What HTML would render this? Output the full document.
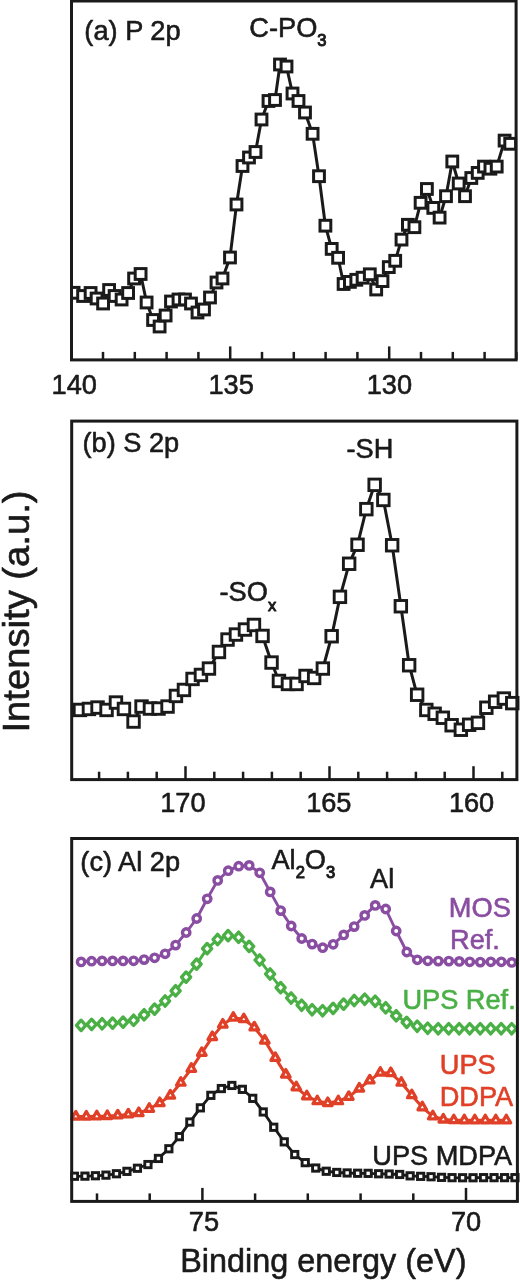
<!DOCTYPE html>
<html lang="en"><head><meta charset="utf-8"><title>XPS spectra</title>
<style>
html,body{margin:0;padding:0;background:#fff}
body{width:520px;height:1281px;overflow:hidden}
svg{display:block}
svg text{font-family:"Liberation Sans", Arial, Helvetica, sans-serif;stroke-width:0.6px;stroke-linejoin:round}
</style></head>
<body>
<svg width="520" height="1281" viewBox="0 0 520 1281">
<rect width="520" height="1281" fill="#fff"/>
<g stroke="#1a1a1a" stroke-width="2.5"><line x1="516.4" y1="359.9" x2="516.4" y2="351.9"/><line x1="484.6" y1="359.9" x2="484.6" y2="351.9"/><line x1="452.8" y1="359.9" x2="452.8" y2="351.9"/><line x1="421.0" y1="359.9" x2="421.0" y2="351.9"/><line x1="357.4" y1="359.9" x2="357.4" y2="351.9"/><line x1="325.6" y1="359.9" x2="325.6" y2="351.9"/><line x1="293.8" y1="359.9" x2="293.8" y2="351.9"/><line x1="262.0" y1="359.9" x2="262.0" y2="351.9"/><line x1="198.4" y1="359.9" x2="198.4" y2="351.9"/><line x1="166.6" y1="359.9" x2="166.6" y2="351.9"/><line x1="134.8" y1="359.9" x2="134.8" y2="351.9"/><line x1="103.0" y1="359.9" x2="103.0" y2="351.9"/><line x1="230.2" y1="359.9" x2="230.2" y2="346.4"/><line x1="389.2" y1="359.9" x2="389.2" y2="346.4"/><line x1="502.3" y1="779.7" x2="502.3" y2="771.7"/><line x1="444.7" y1="779.7" x2="444.7" y2="771.7"/><line x1="415.9" y1="779.7" x2="415.9" y2="771.7"/><line x1="387.1" y1="779.7" x2="387.1" y2="771.7"/><line x1="358.3" y1="779.7" x2="358.3" y2="771.7"/><line x1="300.7" y1="779.7" x2="300.7" y2="771.7"/><line x1="271.9" y1="779.7" x2="271.9" y2="771.7"/><line x1="243.1" y1="779.7" x2="243.1" y2="771.7"/><line x1="214.3" y1="779.7" x2="214.3" y2="771.7"/><line x1="156.7" y1="779.7" x2="156.7" y2="771.7"/><line x1="127.9" y1="779.7" x2="127.9" y2="771.7"/><line x1="99.1" y1="779.7" x2="99.1" y2="771.7"/><line x1="185.5" y1="779.7" x2="185.5" y2="766.2"/><line x1="329.5" y1="779.7" x2="329.5" y2="766.2"/><line x1="473.5" y1="779.7" x2="473.5" y2="766.2"/><line x1="413.3" y1="1201.4" x2="413.3" y2="1193.4"/><line x1="360.6" y1="1201.4" x2="360.6" y2="1193.4"/><line x1="307.8" y1="1201.4" x2="307.8" y2="1193.4"/><line x1="255.1" y1="1201.4" x2="255.1" y2="1193.4"/><line x1="149.7" y1="1201.4" x2="149.7" y2="1193.4"/><line x1="97.0" y1="1201.4" x2="97.0" y2="1193.4"/><line x1="202.4" y1="1201.4" x2="202.4" y2="1187.9"/><line x1="466.0" y1="1201.4" x2="466.0" y2="1187.9"/></g>
<clipPath id="cl"><rect x="70.2" y="0" width="450" height="1281"/></clipPath><g clip-path="url(#cl)">
<polyline fill="none" stroke="#1a1a1a" stroke-width="3.0" stroke-linejoin="round" points="73.6,292.8 83.1,296.0 90.6,293.0 96.6,298.5 103.1,303.5 109.1,290.0 114.6,296.0 121.6,299.5 128.1,293.0 134.1,278.5 140.6,274.0 146.6,302.5 153.1,320.0 159.6,326.5 165.6,315.5 171.0,301.5 178.5,299.5 185.0,299.5 191.0,303.5 197.5,312.5 204.0,309.5 210.0,297.5 216.5,282.5 222.5,278.5 230.0,257.5 236.5,204.5 242.5,166.0 249.0,157.5 255.5,152.0 261.5,119.5 268.5,101.0 275.0,100.0 280.0,64.5 286.5,66.5 292.5,93.5 298.5,101.0 305.0,112.5 312.6,133.8 319.0,176.2 325.4,225.7 331.7,248.9 338.1,257.8 343.6,284.0 349.9,281.9 356.3,279.8 362.6,277.7 369.8,274.3 376.2,289.5 382.5,281.1 388.8,267.1 395.2,260.8 401.5,239.6 407.9,224.8 414.4,227.2 420.6,202.8 426.9,189.0 433.3,207.9 439.6,217.6 446.0,196.2 452.3,161.5 458.7,183.5 465.0,196.2 471.3,178.0 477.7,172.9 484.0,166.6 490.4,168.7 496.7,166.6 504.6,140.6 510.2,143.8"/>
<g fill="#fff" stroke="#1a1a1a" stroke-width="3.0"><rect x="68.2" y="287.4" width="10.8" height="10.8"/><rect x="77.7" y="290.6" width="10.8" height="10.8"/><rect x="85.2" y="287.6" width="10.8" height="10.8"/><rect x="91.2" y="293.1" width="10.8" height="10.8"/><rect x="97.7" y="298.1" width="10.8" height="10.8"/><rect x="103.7" y="284.6" width="10.8" height="10.8"/><rect x="109.2" y="290.6" width="10.8" height="10.8"/><rect x="116.2" y="294.1" width="10.8" height="10.8"/><rect x="122.7" y="287.6" width="10.8" height="10.8"/><rect x="128.7" y="273.1" width="10.8" height="10.8"/><rect x="135.2" y="268.6" width="10.8" height="10.8"/><rect x="141.2" y="297.1" width="10.8" height="10.8"/><rect x="147.7" y="314.6" width="10.8" height="10.8"/><rect x="154.2" y="321.1" width="10.8" height="10.8"/><rect x="160.2" y="310.1" width="10.8" height="10.8"/><rect x="165.6" y="296.1" width="10.8" height="10.8"/><rect x="173.1" y="294.1" width="10.8" height="10.8"/><rect x="179.6" y="294.1" width="10.8" height="10.8"/><rect x="185.6" y="298.1" width="10.8" height="10.8"/><rect x="192.1" y="307.1" width="10.8" height="10.8"/><rect x="198.6" y="304.1" width="10.8" height="10.8"/><rect x="204.6" y="292.1" width="10.8" height="10.8"/><rect x="211.1" y="277.1" width="10.8" height="10.8"/><rect x="217.1" y="273.1" width="10.8" height="10.8"/><rect x="224.6" y="252.1" width="10.8" height="10.8"/><rect x="231.1" y="199.1" width="10.8" height="10.8"/><rect x="237.1" y="160.6" width="10.8" height="10.8"/><rect x="243.6" y="152.1" width="10.8" height="10.8"/><rect x="250.1" y="146.6" width="10.8" height="10.8"/><rect x="256.1" y="114.1" width="10.8" height="10.8"/><rect x="263.1" y="95.6" width="10.8" height="10.8"/><rect x="269.6" y="94.6" width="10.8" height="10.8"/><rect x="274.6" y="59.1" width="10.8" height="10.8"/><rect x="281.1" y="61.1" width="10.8" height="10.8"/><rect x="287.1" y="88.1" width="10.8" height="10.8"/><rect x="293.1" y="95.6" width="10.8" height="10.8"/><rect x="299.6" y="107.1" width="10.8" height="10.8"/><rect x="307.2" y="128.4" width="10.8" height="10.8"/><rect x="313.6" y="170.8" width="10.8" height="10.8"/><rect x="320.0" y="220.3" width="10.8" height="10.8"/><rect x="326.3" y="243.5" width="10.8" height="10.8"/><rect x="332.7" y="252.4" width="10.8" height="10.8"/><rect x="338.2" y="278.6" width="10.8" height="10.8"/><rect x="344.5" y="276.5" width="10.8" height="10.8"/><rect x="350.9" y="274.4" width="10.8" height="10.8"/><rect x="357.2" y="272.3" width="10.8" height="10.8"/><rect x="364.4" y="268.9" width="10.8" height="10.8"/><rect x="370.8" y="284.1" width="10.8" height="10.8"/><rect x="377.1" y="275.7" width="10.8" height="10.8"/><rect x="383.4" y="261.7" width="10.8" height="10.8"/><rect x="389.8" y="255.4" width="10.8" height="10.8"/><rect x="396.1" y="234.2" width="10.8" height="10.8"/><rect x="402.5" y="219.4" width="10.8" height="10.8"/><rect x="409.0" y="221.8" width="10.8" height="10.8"/><rect x="415.2" y="197.4" width="10.8" height="10.8"/><rect x="421.5" y="183.6" width="10.8" height="10.8"/><rect x="427.9" y="202.5" width="10.8" height="10.8"/><rect x="434.2" y="212.2" width="10.8" height="10.8"/><rect x="440.6" y="190.8" width="10.8" height="10.8"/><rect x="446.9" y="156.1" width="10.8" height="10.8"/><rect x="453.3" y="178.1" width="10.8" height="10.8"/><rect x="459.6" y="190.8" width="10.8" height="10.8"/><rect x="465.9" y="172.6" width="10.8" height="10.8"/><rect x="472.3" y="167.5" width="10.8" height="10.8"/><rect x="478.6" y="161.2" width="10.8" height="10.8"/><rect x="485.0" y="163.3" width="10.8" height="10.8"/><rect x="491.3" y="161.2" width="10.8" height="10.8"/><rect x="499.2" y="135.2" width="10.8" height="10.8"/><rect x="504.8" y="138.4" width="10.8" height="10.8"/></g>
<polyline fill="none" stroke="#1a1a1a" stroke-width="3.0" stroke-linejoin="round" points="80.0,710.0 89.0,709.0 97.5,707.5 106.5,710.0 116.0,702.5 124.0,709.0 133.5,721.5 141.5,706.5 150.0,708.5 158.5,708.5 167.5,706.5 176.0,696.0 184.0,690.0 192.5,679.0 201.0,675.0 209.0,668.5 219.0,652.0 227.5,639.5 236.0,634.5 245.0,629.5 254.0,625.0 262.5,636.0 271.5,662.5 279.0,681.0 288.0,684.0 296.5,684.0 305.5,676.0 314.2,678.0 322.9,668.5 331.7,636.2 340.0,596.9 349.2,563.7 357.5,544.8 366.3,509.2 374.6,484.8 383.4,500.0 392.2,545.2 400.9,606.2 409.2,665.2 417.1,694.8 426.3,710.0 434.6,713.7 442.9,717.8 451.7,725.2 460.9,729.8 469.2,724.8 478.0,722.9 486.3,707.7 495.1,701.7 503.8,698.5 512.2,703.1"/>
<g fill="#fff" stroke="#1a1a1a" stroke-width="2.9"><rect x="74.2" y="704.2" width="11.5" height="11.5"/><rect x="83.2" y="703.2" width="11.5" height="11.5"/><rect x="91.8" y="701.8" width="11.5" height="11.5"/><rect x="100.8" y="704.2" width="11.5" height="11.5"/><rect x="110.2" y="696.8" width="11.5" height="11.5"/><rect x="118.2" y="703.2" width="11.5" height="11.5"/><rect x="127.8" y="715.8" width="11.5" height="11.5"/><rect x="135.8" y="700.8" width="11.5" height="11.5"/><rect x="144.2" y="702.8" width="11.5" height="11.5"/><rect x="152.8" y="702.8" width="11.5" height="11.5"/><rect x="161.8" y="700.8" width="11.5" height="11.5"/><rect x="170.2" y="690.2" width="11.5" height="11.5"/><rect x="178.2" y="684.2" width="11.5" height="11.5"/><rect x="186.8" y="673.2" width="11.5" height="11.5"/><rect x="195.2" y="669.2" width="11.5" height="11.5"/><rect x="203.2" y="662.8" width="11.5" height="11.5"/><rect x="213.2" y="646.2" width="11.5" height="11.5"/><rect x="221.8" y="633.8" width="11.5" height="11.5"/><rect x="230.2" y="628.8" width="11.5" height="11.5"/><rect x="239.2" y="623.8" width="11.5" height="11.5"/><rect x="248.2" y="619.2" width="11.5" height="11.5"/><rect x="256.8" y="630.2" width="11.5" height="11.5"/><rect x="265.8" y="656.8" width="11.5" height="11.5"/><rect x="273.2" y="675.2" width="11.5" height="11.5"/><rect x="282.2" y="678.2" width="11.5" height="11.5"/><rect x="290.8" y="678.2" width="11.5" height="11.5"/><rect x="299.8" y="670.2" width="11.5" height="11.5"/><rect x="308.4" y="672.2" width="11.5" height="11.5"/><rect x="317.1" y="662.8" width="11.5" height="11.5"/><rect x="325.9" y="630.5" width="11.5" height="11.5"/><rect x="334.2" y="591.1" width="11.5" height="11.5"/><rect x="343.4" y="558.0" width="11.5" height="11.5"/><rect x="351.8" y="539.0" width="11.5" height="11.5"/><rect x="360.6" y="503.4" width="11.5" height="11.5"/><rect x="368.9" y="479.1" width="11.5" height="11.5"/><rect x="377.6" y="494.2" width="11.5" height="11.5"/><rect x="386.4" y="539.5" width="11.5" height="11.5"/><rect x="395.1" y="600.5" width="11.5" height="11.5"/><rect x="403.4" y="659.5" width="11.5" height="11.5"/><rect x="411.4" y="689.0" width="11.5" height="11.5"/><rect x="420.6" y="704.2" width="11.5" height="11.5"/><rect x="428.9" y="708.0" width="11.5" height="11.5"/><rect x="437.1" y="712.0" width="11.5" height="11.5"/><rect x="445.9" y="719.5" width="11.5" height="11.5"/><rect x="455.1" y="724.0" width="11.5" height="11.5"/><rect x="463.4" y="719.0" width="11.5" height="11.5"/><rect x="472.2" y="717.1" width="11.5" height="11.5"/><rect x="480.6" y="702.0" width="11.5" height="11.5"/><rect x="489.4" y="696.0" width="11.5" height="11.5"/><rect x="498.1" y="692.8" width="11.5" height="11.5"/><rect x="506.5" y="697.4" width="11.5" height="11.5"/></g>
<polyline fill="none" stroke="#894da1" stroke-width="2.9" stroke-linejoin="round" points="81.1,961.9 91.6,961.2 102.1,960.9 112.6,960.9 123.1,960.9 133.6,960.8 144.1,959.6 154.6,957.8 165.1,953.8 175.6,945.1 186.2,932.5 196.7,918.5 207.2,898.8 217.7,880.4 228.2,870.7 238.7,866.2 249.2,865.4 259.7,872.8 270.2,891.9 280.7,910.6 291.2,926.0 301.7,938.5 312.2,944.1 322.7,947.7 333.2,944.3 343.7,934.9 354.2,926.6 364.7,915.4 375.2,905.4 385.7,909.0 396.2,931.0 406.8,952.0 417.3,959.8 427.8,960.8 438.3,961.1 448.8,961.1 459.3,961.4 469.8,961.8 480.3,962.1 490.8,961.8 501.3,961.8 511.8,962.4"/>
<g fill="#fff" stroke="#894da1" stroke-width="3.4"><circle cx="81.1" cy="961.9" r="3.7"/><circle cx="91.6" cy="961.2" r="3.7"/><circle cx="102.1" cy="960.9" r="3.7"/><circle cx="112.6" cy="960.9" r="3.7"/><circle cx="123.1" cy="960.9" r="3.7"/><circle cx="133.6" cy="960.8" r="3.7"/><circle cx="144.1" cy="959.6" r="3.7"/><circle cx="154.6" cy="957.8" r="3.7"/><circle cx="165.1" cy="953.8" r="3.7"/><circle cx="175.6" cy="945.1" r="3.7"/><circle cx="186.2" cy="932.5" r="3.7"/><circle cx="196.7" cy="918.5" r="3.7"/><circle cx="207.2" cy="898.8" r="3.7"/><circle cx="217.7" cy="880.4" r="3.7"/><circle cx="228.2" cy="870.7" r="3.7"/><circle cx="238.7" cy="866.2" r="3.7"/><circle cx="249.2" cy="865.4" r="3.7"/><circle cx="259.7" cy="872.8" r="3.7"/><circle cx="270.2" cy="891.9" r="3.7"/><circle cx="280.7" cy="910.6" r="3.7"/><circle cx="291.2" cy="926.0" r="3.7"/><circle cx="301.7" cy="938.5" r="3.7"/><circle cx="312.2" cy="944.1" r="3.7"/><circle cx="322.7" cy="947.7" r="3.7"/><circle cx="333.2" cy="944.3" r="3.7"/><circle cx="343.7" cy="934.9" r="3.7"/><circle cx="354.2" cy="926.6" r="3.7"/><circle cx="364.7" cy="915.4" r="3.7"/><circle cx="375.2" cy="905.4" r="3.7"/><circle cx="385.7" cy="909.0" r="3.7"/><circle cx="396.2" cy="931.0" r="3.7"/><circle cx="406.8" cy="952.0" r="3.7"/><circle cx="417.3" cy="959.8" r="3.7"/><circle cx="427.8" cy="960.8" r="3.7"/><circle cx="438.3" cy="961.1" r="3.7"/><circle cx="448.8" cy="961.1" r="3.7"/><circle cx="459.3" cy="961.4" r="3.7"/><circle cx="469.8" cy="961.8" r="3.7"/><circle cx="480.3" cy="962.1" r="3.7"/><circle cx="490.8" cy="961.8" r="3.7"/><circle cx="501.3" cy="961.8" r="3.7"/><circle cx="511.8" cy="962.4" r="3.7"/></g>
<polyline fill="none" stroke="#4ab046" stroke-width="2.9" stroke-linejoin="round" points="81.1,1025.4 91.6,1024.4 102.1,1023.8 112.6,1023.1 123.1,1022.1 133.6,1020.3 144.1,1014.8 154.6,1009.1 165.1,1001.0 175.6,990.8 186.1,977.1 196.6,964.1 207.1,948.6 217.6,939.5 228.1,935.6 238.6,937.3 249.1,946.4 259.6,960.0 270.1,974.0 280.6,987.6 291.1,998.0 301.6,1005.2 312.1,1009.7 322.6,1010.7 333.1,1008.4 343.6,1004.1 354.2,1000.5 364.7,999.2 375.2,1001.2 385.7,1007.8 396.2,1015.8 406.7,1022.4 417.2,1026.2 427.7,1028.2 438.2,1028.7 448.7,1028.7 459.2,1028.7 469.7,1028.7 480.2,1028.7 490.7,1028.7 501.2,1028.7 511.7,1028.7"/>
<g fill="#fff" stroke="#4ab046" stroke-width="3.3" stroke-linejoin="round"><path d="M81.1 1020.2l4.6 5.2l-4.6 5.2l-4.6 -5.2z"/><path d="M91.6 1019.2l4.6 5.2l-4.6 5.2l-4.6 -5.2z"/><path d="M102.1 1018.6l4.6 5.2l-4.6 5.2l-4.6 -5.2z"/><path d="M112.6 1017.9l4.6 5.2l-4.6 5.2l-4.6 -5.2z"/><path d="M123.1 1016.9l4.6 5.2l-4.6 5.2l-4.6 -5.2z"/><path d="M133.6 1015.1l4.6 5.2l-4.6 5.2l-4.6 -5.2z"/><path d="M144.1 1009.6l4.6 5.2l-4.6 5.2l-4.6 -5.2z"/><path d="M154.6 1003.9l4.6 5.2l-4.6 5.2l-4.6 -5.2z"/><path d="M165.1 995.8l4.6 5.2l-4.6 5.2l-4.6 -5.2z"/><path d="M175.6 985.6l4.6 5.2l-4.6 5.2l-4.6 -5.2z"/><path d="M186.1 971.9l4.6 5.2l-4.6 5.2l-4.6 -5.2z"/><path d="M196.6 958.9l4.6 5.2l-4.6 5.2l-4.6 -5.2z"/><path d="M207.1 943.4l4.6 5.2l-4.6 5.2l-4.6 -5.2z"/><path d="M217.6 934.3l4.6 5.2l-4.6 5.2l-4.6 -5.2z"/><path d="M228.1 930.4l4.6 5.2l-4.6 5.2l-4.6 -5.2z"/><path d="M238.6 932.1l4.6 5.2l-4.6 5.2l-4.6 -5.2z"/><path d="M249.1 941.2l4.6 5.2l-4.6 5.2l-4.6 -5.2z"/><path d="M259.6 954.8l4.6 5.2l-4.6 5.2l-4.6 -5.2z"/><path d="M270.1 968.8l4.6 5.2l-4.6 5.2l-4.6 -5.2z"/><path d="M280.6 982.4l4.6 5.2l-4.6 5.2l-4.6 -5.2z"/><path d="M291.1 992.8l4.6 5.2l-4.6 5.2l-4.6 -5.2z"/><path d="M301.6 1000.0l4.6 5.2l-4.6 5.2l-4.6 -5.2z"/><path d="M312.1 1004.5l4.6 5.2l-4.6 5.2l-4.6 -5.2z"/><path d="M322.6 1005.5l4.6 5.2l-4.6 5.2l-4.6 -5.2z"/><path d="M333.1 1003.2l4.6 5.2l-4.6 5.2l-4.6 -5.2z"/><path d="M343.6 998.9l4.6 5.2l-4.6 5.2l-4.6 -5.2z"/><path d="M354.2 995.3l4.6 5.2l-4.6 5.2l-4.6 -5.2z"/><path d="M364.7 994.0l4.6 5.2l-4.6 5.2l-4.6 -5.2z"/><path d="M375.2 996.0l4.6 5.2l-4.6 5.2l-4.6 -5.2z"/><path d="M385.7 1002.6l4.6 5.2l-4.6 5.2l-4.6 -5.2z"/><path d="M396.2 1010.6l4.6 5.2l-4.6 5.2l-4.6 -5.2z"/><path d="M406.7 1017.2l4.6 5.2l-4.6 5.2l-4.6 -5.2z"/><path d="M417.2 1021.0l4.6 5.2l-4.6 5.2l-4.6 -5.2z"/><path d="M427.7 1023.0l4.6 5.2l-4.6 5.2l-4.6 -5.2z"/><path d="M438.2 1023.5l4.6 5.2l-4.6 5.2l-4.6 -5.2z"/><path d="M448.7 1023.5l4.6 5.2l-4.6 5.2l-4.6 -5.2z"/><path d="M459.2 1023.5l4.6 5.2l-4.6 5.2l-4.6 -5.2z"/><path d="M469.7 1023.5l4.6 5.2l-4.6 5.2l-4.6 -5.2z"/><path d="M480.2 1023.5l4.6 5.2l-4.6 5.2l-4.6 -5.2z"/><path d="M490.7 1023.5l4.6 5.2l-4.6 5.2l-4.6 -5.2z"/><path d="M501.2 1023.5l4.6 5.2l-4.6 5.2l-4.6 -5.2z"/><path d="M511.7 1023.5l4.6 5.2l-4.6 5.2l-4.6 -5.2z"/></g>
<polyline fill="none" stroke="#e04027" stroke-width="3.0" stroke-linejoin="round" points="75.8,1116.5 86.3,1116.5 96.8,1116.3 107.3,1116.0 117.8,1115.4 128.3,1114.4 138.8,1113.1 149.3,1108.8 159.8,1103.1 170.3,1095.5 180.8,1082.7 191.3,1068.8 201.8,1052.9 212.3,1037.1 222.8,1024.6 233.3,1017.7 243.8,1019.2 254.3,1027.4 264.8,1040.6 275.3,1057.9 285.8,1074.6 296.3,1087.3 306.8,1096.3 317.3,1101.2 327.8,1103.1 338.3,1101.2 348.8,1096.9 359.3,1088.5 369.8,1080.4 380.3,1072.7 390.8,1073.1 401.3,1082.7 411.8,1095.2 422.3,1107.3 432.8,1116.3 443.3,1119.5 453.8,1120.2 464.3,1120.3 474.8,1120.3 485.3,1120.3 495.8,1120.3 506.3,1120.3"/>
<g fill="#fff" stroke="#e04027" stroke-width="3.3" stroke-linejoin="round"><path d="M75.8 1111.5L80.1 1119.0L71.5 1119.0z"/><path d="M86.3 1111.5L90.6 1119.0L82.0 1119.0z"/><path d="M96.8 1111.3L101.1 1118.8L92.5 1118.8z"/><path d="M107.3 1111.0L111.6 1118.5L103.0 1118.5z"/><path d="M117.8 1110.4L122.1 1117.9L113.5 1117.9z"/><path d="M128.3 1109.4L132.6 1116.9L124.0 1116.9z"/><path d="M138.8 1108.1L143.1 1115.6L134.5 1115.6z"/><path d="M149.3 1103.8L153.6 1111.3L145.0 1111.3z"/><path d="M159.8 1098.1L164.1 1105.6L155.5 1105.6z"/><path d="M170.3 1090.5L174.6 1098.0L166.0 1098.0z"/><path d="M180.8 1077.7L185.1 1085.2L176.5 1085.2z"/><path d="M191.3 1063.8L195.6 1071.3L187.0 1071.3z"/><path d="M201.8 1047.9L206.1 1055.4L197.5 1055.4z"/><path d="M212.3 1032.1L216.6 1039.6L208.0 1039.6z"/><path d="M222.8 1019.6L227.1 1027.1L218.5 1027.1z"/><path d="M233.3 1012.7L237.6 1020.2L229.0 1020.2z"/><path d="M243.8 1014.2L248.1 1021.7L239.5 1021.7z"/><path d="M254.3 1022.4L258.6 1029.9L250.0 1029.9z"/><path d="M264.8 1035.6L269.1 1043.1L260.5 1043.1z"/><path d="M275.3 1052.9L279.6 1060.4L271.0 1060.4z"/><path d="M285.8 1069.6L290.1 1077.1L281.5 1077.1z"/><path d="M296.3 1082.3L300.6 1089.8L292.0 1089.8z"/><path d="M306.8 1091.3L311.1 1098.8L302.5 1098.8z"/><path d="M317.3 1096.2L321.6 1103.7L313.0 1103.7z"/><path d="M327.8 1098.1L332.1 1105.6L323.5 1105.6z"/><path d="M338.3 1096.2L342.6 1103.7L334.0 1103.7z"/><path d="M348.8 1091.9L353.1 1099.4L344.5 1099.4z"/><path d="M359.3 1083.5L363.6 1091.0L355.0 1091.0z"/><path d="M369.8 1075.4L374.1 1082.9L365.5 1082.9z"/><path d="M380.3 1067.7L384.6 1075.2L376.0 1075.2z"/><path d="M390.8 1068.1L395.1 1075.6L386.5 1075.6z"/><path d="M401.3 1077.7L405.6 1085.2L397.0 1085.2z"/><path d="M411.8 1090.2L416.1 1097.7L407.5 1097.7z"/><path d="M422.3 1102.3L426.6 1109.8L418.0 1109.8z"/><path d="M432.8 1111.3L437.1 1118.8L428.5 1118.8z"/><path d="M443.3 1114.5L447.6 1122.0L439.0 1122.0z"/><path d="M453.8 1115.2L458.1 1122.7L449.5 1122.7z"/><path d="M464.3 1115.3L468.6 1122.8L460.0 1122.8z"/><path d="M474.8 1115.3L479.1 1122.8L470.5 1122.8z"/><path d="M485.3 1115.3L489.6 1122.8L481.0 1122.8z"/><path d="M495.8 1115.3L500.1 1122.8L491.5 1122.8z"/><path d="M506.3 1115.3L510.6 1122.8L502.0 1122.8z"/></g>
<polyline fill="none" stroke="#1a1a1a" stroke-width="2.8" stroke-linejoin="round" points="74.5,1176.3 85.0,1176.2 95.5,1175.8 106.0,1175.2 116.5,1173.8 126.9,1171.4 137.4,1168.3 147.9,1164.5 158.4,1158.4 168.9,1148.8 179.4,1136.6 189.9,1122.1 200.4,1107.8 210.8,1095.4 221.3,1088.5 231.8,1085.4 242.3,1089.3 252.8,1098.3 263.3,1111.9 273.8,1127.3 284.3,1141.9 294.7,1154.6 305.2,1162.6 315.7,1168.1 326.2,1171.2 336.7,1172.5 347.2,1173.0 357.7,1173.3 368.2,1173.4 378.7,1173.8 389.1,1174.0 399.6,1174.5 410.1,1175.8 420.6,1176.3 431.1,1176.7 441.6,1177.3 452.1,1177.7 462.6,1177.8 473.0,1177.7 483.5,1177.7 494.0,1177.7 504.5,1177.7 515.0,1177.7"/>
<g fill="#fff" stroke="#1a1a1a" stroke-width="2.9"><rect x="71.3" y="1173.1" width="6.3" height="6.3"/><rect x="81.8" y="1173.0" width="6.3" height="6.3"/><rect x="92.3" y="1172.6" width="6.3" height="6.3"/><rect x="102.8" y="1172.0" width="6.3" height="6.3"/><rect x="113.3" y="1170.6" width="6.3" height="6.3"/><rect x="123.8" y="1168.2" width="6.3" height="6.3"/><rect x="134.3" y="1165.1" width="6.3" height="6.3"/><rect x="144.8" y="1161.4" width="6.3" height="6.3"/><rect x="155.3" y="1155.3" width="6.3" height="6.3"/><rect x="165.7" y="1145.6" width="6.3" height="6.3"/><rect x="176.2" y="1133.5" width="6.3" height="6.3"/><rect x="186.7" y="1118.9" width="6.3" height="6.3"/><rect x="197.2" y="1104.7" width="6.3" height="6.3"/><rect x="207.7" y="1092.2" width="6.3" height="6.3"/><rect x="218.2" y="1085.4" width="6.3" height="6.3"/><rect x="228.7" y="1082.3" width="6.3" height="6.3"/><rect x="239.2" y="1086.2" width="6.3" height="6.3"/><rect x="249.6" y="1095.2" width="6.3" height="6.3"/><rect x="260.1" y="1108.8" width="6.3" height="6.3"/><rect x="270.6" y="1124.1" width="6.3" height="6.3"/><rect x="281.1" y="1138.7" width="6.3" height="6.3"/><rect x="291.6" y="1151.4" width="6.3" height="6.3"/><rect x="302.1" y="1159.5" width="6.3" height="6.3"/><rect x="312.6" y="1164.9" width="6.3" height="6.3"/><rect x="323.1" y="1168.1" width="6.3" height="6.3"/><rect x="333.6" y="1169.3" width="6.3" height="6.3"/><rect x="344.0" y="1169.8" width="6.3" height="6.3"/><rect x="354.5" y="1170.1" width="6.3" height="6.3"/><rect x="365.0" y="1170.2" width="6.3" height="6.3"/><rect x="375.5" y="1170.6" width="6.3" height="6.3"/><rect x="386.0" y="1170.9" width="6.3" height="6.3"/><rect x="396.5" y="1171.3" width="6.3" height="6.3"/><rect x="407.0" y="1172.7" width="6.3" height="6.3"/><rect x="417.5" y="1173.2" width="6.3" height="6.3"/><rect x="427.9" y="1173.6" width="6.3" height="6.3"/><rect x="438.4" y="1174.2" width="6.3" height="6.3"/><rect x="448.9" y="1174.5" width="6.3" height="6.3"/><rect x="459.4" y="1174.6" width="6.3" height="6.3"/><rect x="469.9" y="1174.6" width="6.3" height="6.3"/><rect x="480.4" y="1174.5" width="6.3" height="6.3"/><rect x="490.9" y="1174.5" width="6.3" height="6.3"/><rect x="501.4" y="1174.5" width="6.3" height="6.3"/><rect x="511.8" y="1174.5" width="6.3" height="6.3"/></g>
</g>
<g fill="none" stroke="#1a1a1a" stroke-width="3.0"><rect x="71.5" y="1.0" width="444.6" height="358.9"/><rect x="71.7" y="421.1" width="445.2" height="358.5"/><rect x="71.7" y="838.5" width="445.7" height="362.9"/></g>
<text x="84.36" y="39.6" font-size="27.20" fill="#1a1a1a" stroke="#1a1a1a">(a) P 2p</text>
<text x="249.32" y="37.3" font-size="27.20" fill="#1a1a1a" stroke="#1a1a1a">C-PO<tspan dy="9" font-size="16.6" stroke-width="1.0">3</tspan></text>
<text x="51.61" y="394.2" font-size="27.20" fill="#1a1a1a" stroke="#1a1a1a">140</text>
<text x="208.41" y="394.2" font-size="27.20" fill="#1a1a1a" stroke="#1a1a1a">135</text>
<text x="366.75" y="394.2" font-size="27.20" fill="#1a1a1a" stroke="#1a1a1a">130</text>
<text x="82.52" y="451.5" font-size="27.20" fill="#1a1a1a" stroke="#1a1a1a">(b) S 2p</text>
<text x="219.55" y="600.6" font-size="27.20" fill="#1a1a1a" stroke="#1a1a1a">-SO<tspan dy="10.2" font-size="16.6" stroke-width="1.0">x</tspan></text>
<text x="346.47" y="457.5" font-size="27.20" fill="#1a1a1a" stroke="#1a1a1a">-SH</text>
<text x="160.21" y="812.3" font-size="27.20" fill="#1a1a1a" stroke="#1a1a1a">170</text>
<text x="306.13" y="812.3" font-size="27.20" fill="#1a1a1a" stroke="#1a1a1a">165</text>
<text x="448.88" y="812.1" font-size="27.20" fill="#1a1a1a" stroke="#1a1a1a">160</text>
<text x="80.37" y="870.8" font-size="27.20" fill="#1a1a1a" stroke="#1a1a1a">(c) Al 2p</text>
<text x="271.44" y="868.6" font-size="27.20" fill="#1a1a1a" stroke="#1a1a1a">Al<tspan dy="9.5" font-size="16.6" stroke-width="1.0">2</tspan><tspan dy="-9.5">O</tspan><tspan dy="9.5" font-size="16.6" stroke-width="1.0">3</tspan></text>
<text x="370.01" y="888.2" font-size="27.20" fill="#1a1a1a" stroke="#1a1a1a">Al</text>
<text x="448.87" y="917.0" font-size="27.20" fill="#894da1" stroke="#894da1">MOS</text>
<text x="450.02" y="949.3" font-size="27.20" fill="#894da1" stroke="#894da1">Ref.</text>
<text x="402.38" y="1008.8" font-size="27.20" fill="#4ab046" stroke="#4ab046">UPS Ref.</text>
<text x="439.84" y="1074.0" font-size="27.20" fill="#e04027" stroke="#e04027">UPS</text>
<text x="439.74" y="1106.4" font-size="27.20" fill="#e04027" stroke="#e04027">DDPA</text>
<text x="372.26" y="1164.9" font-size="27.20" fill="#1a1a1a" stroke="#1a1a1a">UPS MDPA</text>
<text x="188.79" y="1230.5" font-size="27.20" fill="#1a1a1a" stroke="#1a1a1a">75</text>
<text x="450.91" y="1230.5" font-size="27.20" fill="#1a1a1a" stroke="#1a1a1a">70</text>
<text x="180.19" y="1272.3" font-size="32.40" fill="#1a1a1a" stroke="#1a1a1a">Binding energy (eV)</text>
<text transform="translate(29.4,732.50) rotate(-90)" font-size="36.6" textLength="242" lengthAdjust="spacingAndGlyphs" fill="#1a1a1a" stroke="#1a1a1a">Intensity (a.u.)</text>
</svg>
</body></html>
